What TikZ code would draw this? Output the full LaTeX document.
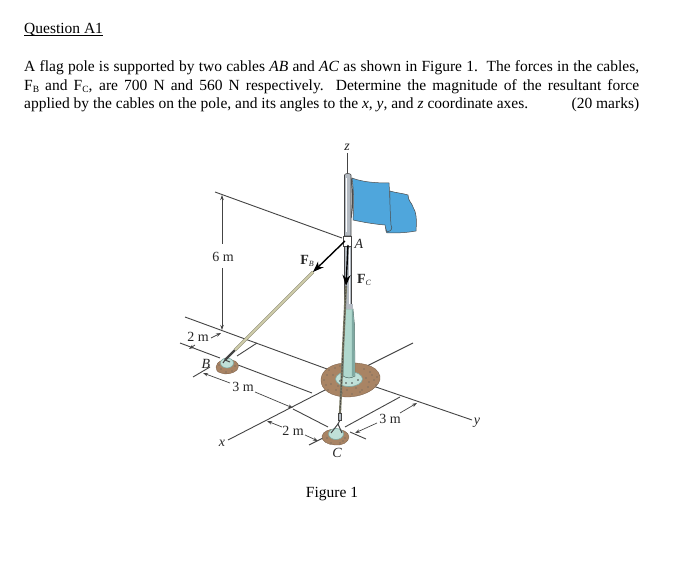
\documentclass[tikz,border=0pt]{standalone}
\usepackage{fontspec}
\setmainfont{Liberation Serif}
\usetikzlibrary{arrows.meta}
\definecolor{flagblue}{HTML}{4FA6DC}
\definecolor{soil}{HTML}{A98464}
\definecolor{teal1}{HTML}{B0D8CE}
\definecolor{teal2}{HTML}{7FA9A2}
\definecolor{steel}{HTML}{B4BBC3}
\definecolor{khaki1}{HTML}{CFCDAA}
\definecolor{inkline}{HTML}{444444}
\tikzset{
  gline/.style={draw=inkline,line width=0.9pt},
  dimline/.style={draw=inkline,line width=0.7pt,-{Stealth[length=5pt,width=3.5pt]}},
  forcearrow/.style={draw=black,line width=1.4pt,-{Stealth[length=11pt,width=8pt]}},
  patch/.style={fill=soil,draw=soil!70!black,line width=0.3pt},
  disc/.style={fill=teal1!80!white,draw=teal2,line width=0.6pt},
  lbl/.style={font=\fontsize{14}{16}\selectfont,text=black!85,inner sep=0pt},
  ilbl/.style={font=\fontsize{14}{16}\selectfont\itshape,text=black!85,inner sep=0pt},
  textline/.style={font=\fontsize{15.5}{18}\selectfont,inner sep=0pt,anchor=base west},
  speck/.style={fill=black!65,draw=none}
}
\newcommand{\subF}[1]{F\raisebox{-0.25ex}{\fontsize{9.5}{10}\selectfont #1}}
\begin{document}
\begin{tikzpicture}[x=1pt,y=-1pt]
\useasboundingbox[fill=white] (0,0) rectangle (673,585);

% ---- Text
\node[textline] (title) at (24,34) {Question A1};
\draw[black,line width=0.7pt] (24,35.5) -- (103,35.5);
\node[textline] (l1) at (24,71.5) {\hbox to 615pt{A flag pole is supported by two cables \textit{AB} and \textit{AC} as shown in Figure 1.\ \ The forces in the cables,}};
\node[textline] (l2) at (24,90.5) {\hbox to 615pt{\subF{B} and \subF{C}, are 700 N and 560 N respectively.\ \ Determine the magnitude of the resultant force}};
\node[textline] (l3) at (24,108.5) {\hbox to 615pt{applied by the cables on the pole, and its angles to the \textit{x}, \textit{y}, and \textit{z} coordinate axes.\hfill(20 marks)}};
\node[textline,anchor=center] (fig) at (332,494.5) {Figure 1};

% ---- Named points
\coordinate (A) at (345,241);
\coordinate (Bp) at (225,360);
\coordinate (Bf) at (235,350);
\coordinate (Cp) at (338,424);
\coordinate (FBtip) at (313,272);
\coordinate (FCtip) at (346,286);

% ---- Ground lines
\draw[gline] (185,317) -- (327,369);
\draw[gline] (373,386) -- (472,420);
\draw[gline] (180,343) -- (220,358);
\draw[gline] (238,365) -- (312,393);
\draw[gline] (193,377) -- (210,367);
\draw[gline] (237,356) -- (257,343);
\draw[gline] (228,440) -- (327,389);
\draw[gline] (363,368) -- (413,343);
\draw[gline] (309,445) -- (329,435);
\draw[gline] (345,427) -- (400,397);
\draw[gline] (293,409) -- (328,427);
\draw[gline] (350,432) -- (366,439);
\draw[gline] (215,192) -- (342,238);

% ---- Dimensions
\draw[dimline] (222,244) -- (222,195);
\draw[dimline] (222,268) -- (222,330);
\draw[dimline] (211,338) -- (221,333);
\draw[dimline] (195,345) -- (189,349);
\draw[dimline] (230,383) -- (203,373);
\draw[dimline] (255,392) -- (293,408);
\draw[dimline] (282,427) -- (267,421);
\draw[dimline] (305,435) -- (318,441);
\draw[dimline] (400,413) -- (417,403);
\draw[dimline] (377,423) -- (355,433);

% ---- Soil patches
\draw[patch] (321,379) .. controls (322,370) and (331,364) .. (344,363)
  .. controls (358,362) and (377,364) .. (380,376)
  .. controls (382,386) and (366,397) .. (347,397)
  .. controls (332,397) and (320,390) .. (321,379) -- cycle;
\draw[patch] (216,367) .. controls (216,361) and (226,358) .. (232,360)
  .. controls (238,361) and (240,366) .. (237,370)
  .. controls (233,374) and (225,375) .. (221,373)
  .. controls (217,372) and (216,370) .. (216,367) -- cycle;
\draw[patch] (322,436) .. controls (323,431) and (330,429) .. (335,429)
  .. controls (342,429) and (349,432) .. (349,437)
  .. controls (349,442) and (342,446) .. (335,445)
  .. controls (328,445) and (321,441) .. (322,436) -- cycle;
\foreach \px/\py in {327/375,331/384,336/390,342/393,352/394,360/392,368/387,374/380,370/372,364/369,329/370,335/368,
  324/380,347/390,356/388,366/378,372/375,338/386,328/390,376/385,333/375,369/382,326/385,362/390,377/377,340/366,
  221/369,226/372,232/371,235/366,219/365,
  327/438,331/443,340/443,345/438,343/441}
  \fill[speck] (\px,\py) circle (0.6pt);

% ---- Base discs
\draw[disc] (349,379) ellipse (13.5 and 7.5);
\draw[disc] (227,363) ellipse (6.5 and 5);
\draw[disc] (336,434) ellipse (7.5 and 5.5);
\foreach \px/\py in {340/381,346/383,352/383,358/380}
  \fill[inkline] (\px,\py) circle (0.8pt);

% ---- Base fittings
\draw[inkline,line width=1pt] (223,363) -- (Bp) -- (230,362);
\draw[inkline,line width=1pt] (331,433) -- (Cp) -- (342,433);

% ---- Flag
\draw[fill=flagblue,draw=black!70,line width=0.5pt]
  (390,191) .. controls (396,193) and (402,193) .. (408,195)
  .. controls (408,201) and (412,203) .. (413,207)
  .. controls (416,212) and (417,218) .. (416,231)
  .. controls (405,233) and (396,233) .. (387,233)
  .. controls (385,230) and (385,227) .. (389,225) -- cycle;
\draw[fill=flagblue,draw=black!70,line width=0.5pt]
  (352,178) .. controls (360,181) and (370,183) .. (389,183)
  .. controls (390,197) and (390,213) .. (391,225)
  .. controls (393,229) and (391,231) .. (387,232)
  .. controls (386,229) and (385,227) .. (385,225)
  .. controls (373,224) and (362,222) .. (353,220)
  .. controls (354,206) and (354,192) .. (352,178) -- cycle;
\draw[black!70,line width=1.2pt] (351,178) .. controls (353,192) and (353,206) .. (351,218);

% ---- Pole
\draw[inkline,line width=0.8pt] (347,153) -- (347,173);
\draw[fill=steel,draw=inkline,line width=0.6pt] (344.5,175) .. controls (345,173) and (350.5,173) .. (351,175)
  -- (351,236) -- (344.5,236) -- cycle;
\fill[white] (346,178) rectangle (347.3,232);
\draw[fill=white,draw=inkline,line width=0.6pt] (343.5,236) rectangle (351.5,246);
\draw[fill=steel,draw=inkline,line width=0.6pt] (344.5,246) rectangle (351.5,306);
\fill[white] (348.5,248) rectangle (349.8,304);
\draw[fill=teal1,draw=teal2!60!black,line width=0.5pt] (345,309) -- (353,309) -- (354.5,325) -- (355,376)
  .. controls (351,378.5) and (347,378.5) .. (343,376) -- (344,325) -- cycle;
\fill[teal2] (351.8,310) -- (352.8,310) -- (354.2,325) -- (354.6,375) -- (351.8,376.8) -- cycle;
\fill[steel] (345.2,304) rectangle (352.8,309);

% ---- Cables
\draw[inkline,line width=2.4pt] (Bp) -- (Bf);
\draw[khaki1!65!black,line width=3pt] (Bf) -- (FBtip);
\draw[khaki1,line width=1.8pt] (Bf) -- (FBtip);
\draw[khaki1!60!black,line width=2.2pt] (FCtip) -- (340,413);
\draw[inkline,line width=0.6pt,dash pattern=on 2pt off 1pt] (FCtip) -- (340,413);
\draw[fill=steel,draw=inkline,line width=0.5pt] (338.5,413) rectangle (341.5,420);
\draw[inkline,line width=1pt] (340,420) -- (Cp);

% ---- Force arrows
\draw[forcearrow] (A) -- (FBtip);
\draw[forcearrow] (348,245) -- (FCtip);

% ---- Labels
\node[ilbl] (z) at (347,147) {z};
\node[ilbl] (Alabel) at (359,244) {A};
\node[lbl] (FB) at (307,261) {\textbf{F}\raisebox{-0.3ex}{\fontsize{8}{8}\selectfont\itshape B}};
\node[lbl] (FC) at (364,280) {\textbf{F}\raisebox{-0.3ex}{\fontsize{8}{8}\selectfont\itshape C}};
\node[lbl] (m6) at (223,257) {6 m};
\node[lbl] (m2a) at (198,337) {2 m};
\node[ilbl] (B) at (206,364) {B};
\node[lbl] (m3a) at (243,387) {3 m};
\node[lbl] (m2b) at (293,431) {2 m};
\node[lbl] (m3b) at (390,419) {3 m};
\node[ilbl] (x) at (222,443) {x};
\node[ilbl] (y) at (477,423) {y};
\node[ilbl] (C) at (337,453) {C};
\end{tikzpicture}
\end{document}
